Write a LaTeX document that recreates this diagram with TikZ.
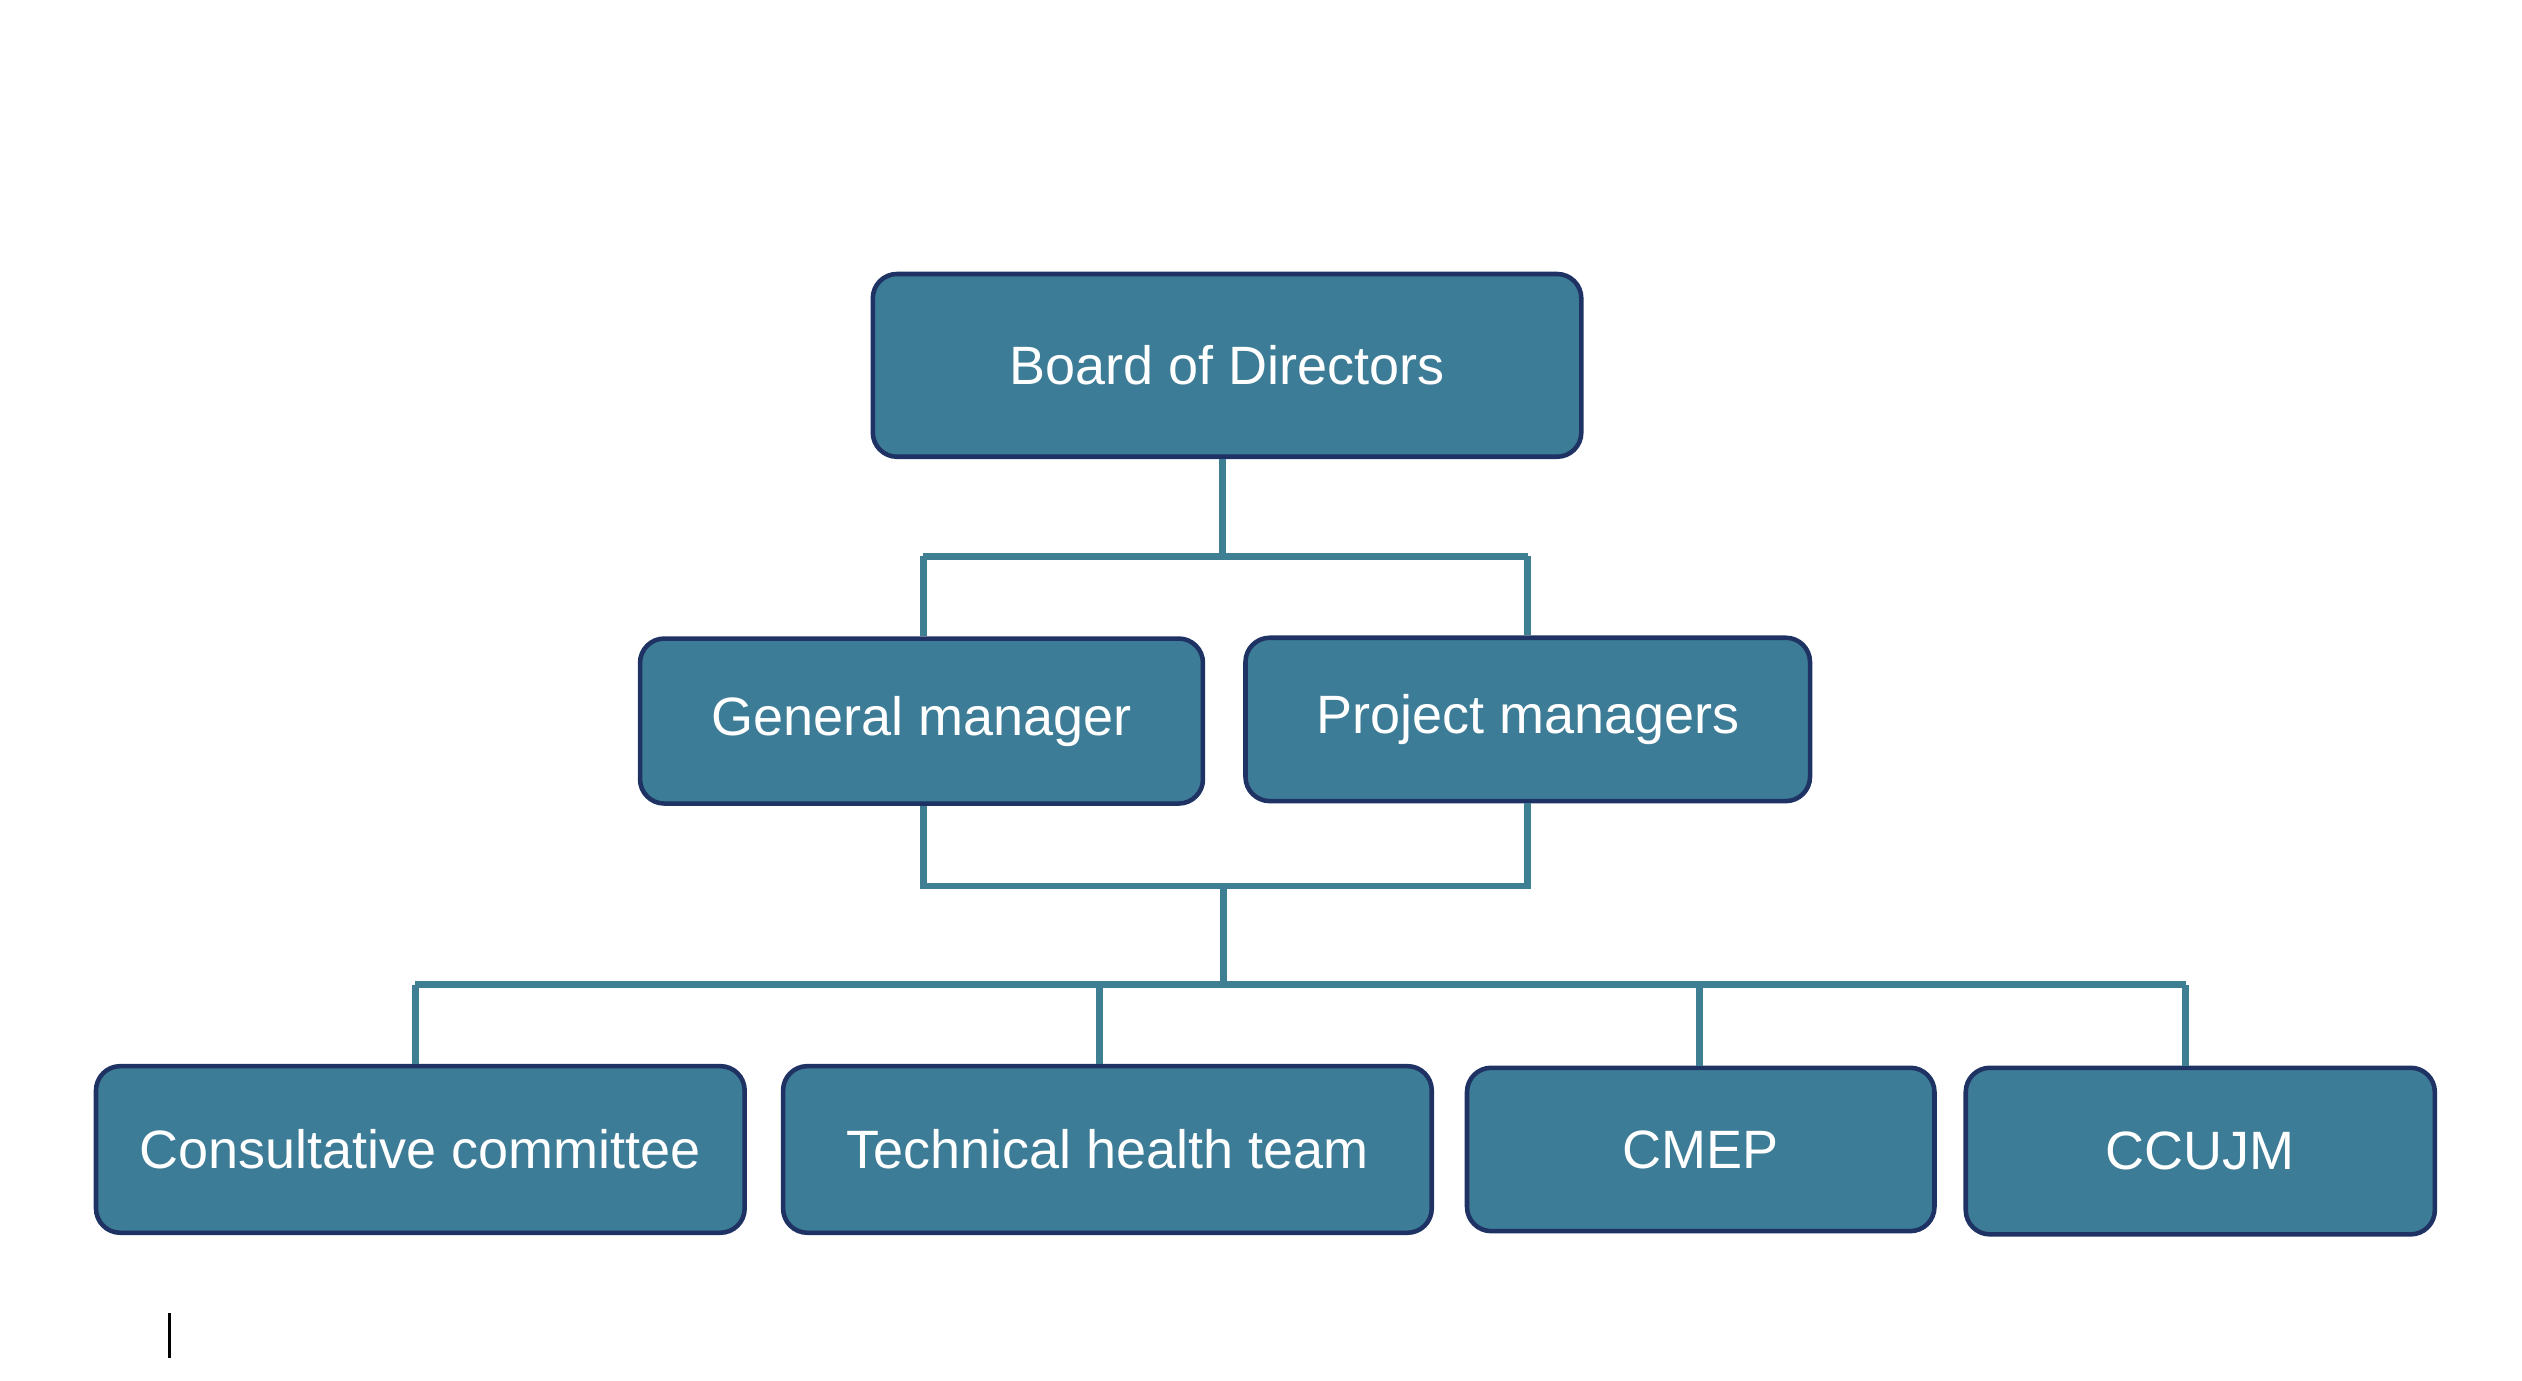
\documentclass[tikz,border=0pt]{standalone}
\usepackage{fontspec}
\setmainfont{Liberation Sans}
\definecolor{boxfill}{RGB}{61,124,150}
\definecolor{boxline}{RGB}{30,50,100}
\definecolor{linkline}{RGB}{63,127,148}
\tikzset{
  orgbox/.style={draw=boxline, fill=boxfill, rounded corners=0.15cm, line width=0.8pt,
    text=white, font=\fontsize{9.5}{11}\selectfont, inner sep=0pt},
  link/.style={draw=linkline, line width=1.2pt}
}
\begin{document}
\begin{tikzpicture}[x=0.01cm, y=-0.01cm]
      \useasboundingbox (0,0) rectangle (1560,854);
      \node[orgbox, minimum width=4.38cm, minimum height=1.13cm] (board) at (759,226) {Board of Directors};
      \node[orgbox, minimum width=3.48cm, minimum height=1.02cm] (gm) at (570,446) {General manager};
      \node[orgbox, minimum width=3.49cm, minimum height=1.01cm] (pm) at (945,445) {Project managers};
      \node[orgbox, minimum width=4.01cm, minimum height=1.03cm] (cc) at (260,711) {Consultative committee};
      \node[orgbox, minimum width=4.01cm, minimum height=1.03cm] (tht) at (685,711) {Technical health team};
      \node[orgbox, minimum width=2.89cm, minimum height=1.01cm] (cmep) at (1052,711) {CMEP};
      \node[orgbox, minimum width=2.90cm, minimum height=1.03cm] (ccujm) at (1361,712) {CCUJM};
      \coordinate (top) at (756,344);
      \coordinate (mid) at (757,548);
      \coordinate (bus) at (757,609);
      \draw[link] (board.south -| top) -- (top);
      \draw[link] (571,344) -- (945,344);
      \draw[link] (571,344) -- (gm.north -| 571,0);
      \draw[link] (945,344) -- (pm.north -| 945,0);
      \draw[link] (gm.south -| 571,0) -- (571,548) -- (945,548) -- (pm.south -| 945,0);
      \draw[link] (mid) -- (bus);
      \draw[link] (257,609) -- (1352,609);
      \draw[link] (257,609) -- (cc.north -| 257,0);
      \draw[link] (680,609) -- (tht.north -| 680,0);
      \draw[link] (1051,609) -- (cmep.north -| 1051,0);
      \draw[link] (1352,609) -- (ccujm.north -| 1352,0);
      \draw[black, line width=0.5pt] (105,812) -- (105,840);
\end{tikzpicture}
\end{document}
